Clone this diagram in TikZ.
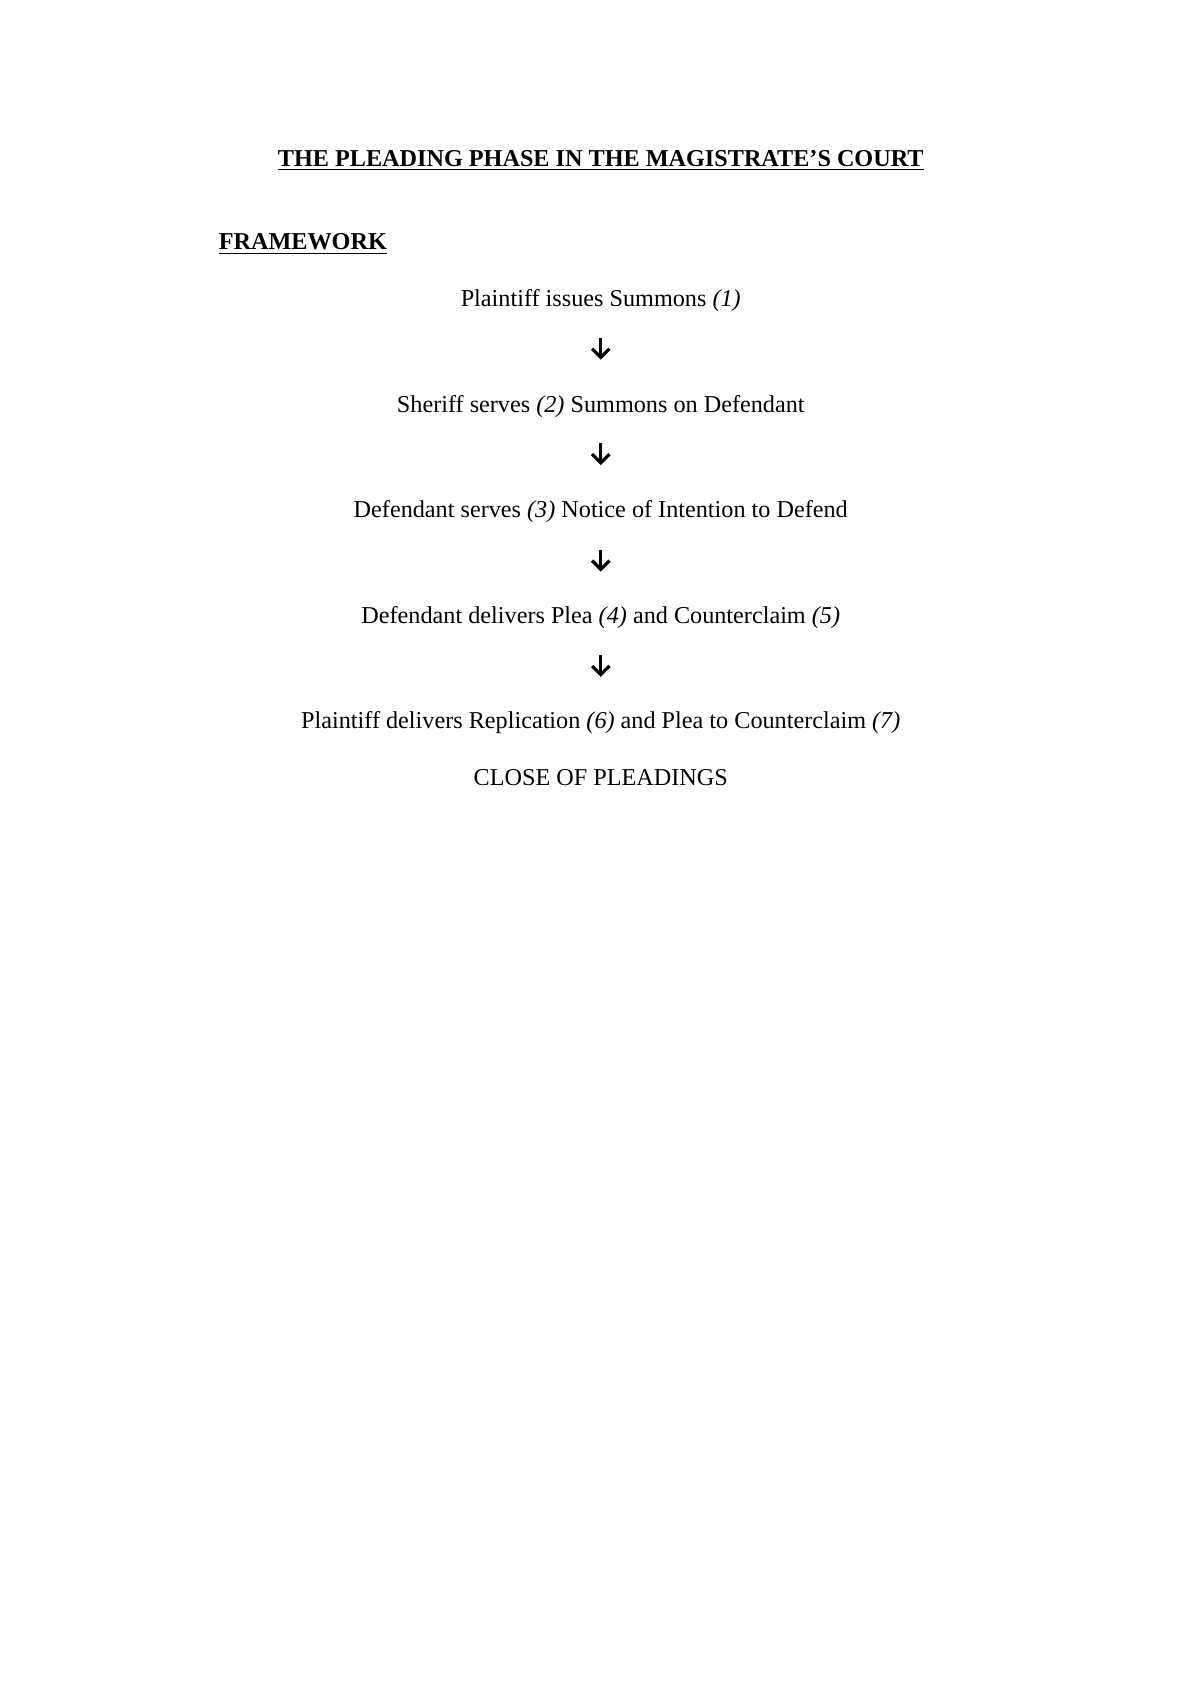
\documentclass[tikz,border=0pt]{standalone}
\usepackage{fontspec}
\setmainfont{Liberation Serif}
\usetikzlibrary{calc}
\begin{document}
\begin{tikzpicture}[x=0.5385pt,y=-0.5385pt,
  txt/.style={font=\fontsize{12}{14}\selectfont, inner sep=0pt, anchor=base},
  hd/.style={font=\fontsize{12}{14}\selectfont\bfseries, inner sep=0pt, anchor=base},
  arr/.style={line width=1.6pt}]
\useasboundingbox (0,0) rectangle (1105,1563);
\node[hd] (title) at (553,153) {\underline{THE PLEADING PHASE IN THE MAGISTRATE'S COURT}};
\node[hd, anchor=base west] (fw) at (201,230) {\underline{FRAMEWORK}};
\node[txt] (s1) at (553,282) {Plaintiff issues Summons \textit{(1)}};
\node[txt] (s2) at (553,380) {Sheriff serves \textit{(2)} Summons on Defendant};
\node[txt] (s3) at (553,476) {Defendant serves \textit{(3)} Notice of Intention to Defend};
\node[txt] (s4) at (553,574) {Defendant delivers Plea \textit{(4)} and Counterclaim \textit{(5)}};
\node[txt] (s5) at (553,671) {Plaintiff delivers Replication \textit{(6)} and Plea to Counterclaim \textit{(7)}};
\node[txt] (s6) at (553,723) {CLOSE OF PLEADINGS};
\foreach \y/\n in {320/a1,417/a2,515/a3,612/a4}{
  \coordinate (\n t) at (553,\y-9);
  \coordinate (\n b) at (553,\y+9);
  \draw[arr] (\n t) -- (\n b);
  \draw[arr, line join=miter] ($(\n b)+(-8,-8)$) -- (\n b) -- ($(\n b)+(8,-8)$);
}
\end{tikzpicture}
\end{document}
